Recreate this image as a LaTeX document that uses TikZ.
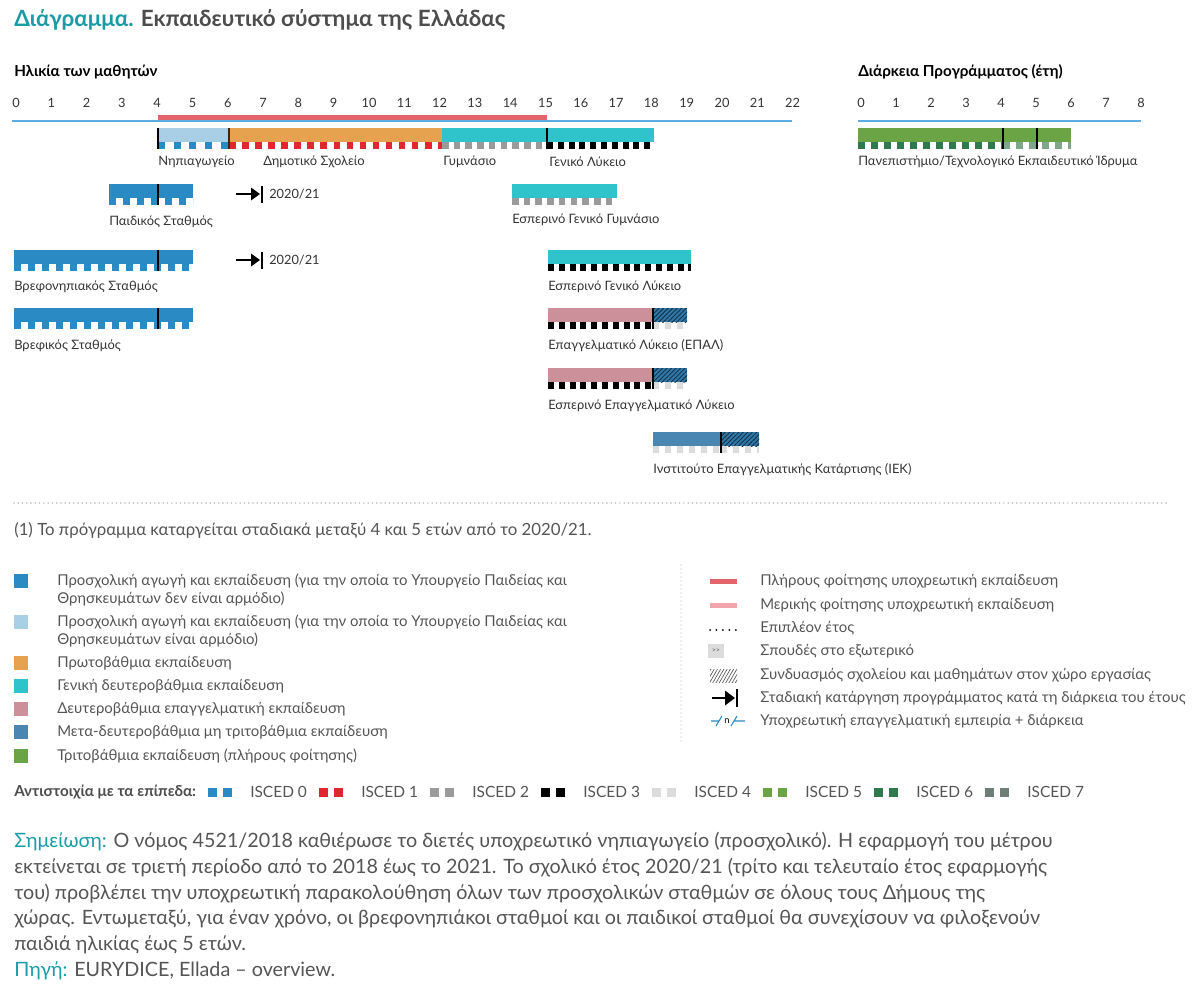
\documentclass[tikz,border=0pt]{standalone}
\usepackage{fontspec}
\setmainfont{Lato}
\usetikzlibrary{patterns.meta}
\definecolor{cTitle}{HTML}{1A9BA6}
\definecolor{cDark}{HTML}{4D4D4D}
\definecolor{cText}{HTML}{555555}
\definecolor{cLabel}{HTML}{333333}
\definecolor{cAxis}{HTML}{5DADE2}
\definecolor{cRed}{HTML}{E0646A}
\definecolor{cPink}{HTML}{F2A6AC}
\definecolor{cPre}{HTML}{2A8AC4}
\definecolor{cPreL}{HTML}{A8CFE5}
\definecolor{cPrim}{HTML}{E6A24F}
\definecolor{cSec}{HTML}{2FC4CB}
\definecolor{cVoc}{HTML}{CC909B}
\definecolor{cPost}{HTML}{4A86B2}
\definecolor{cTer}{HTML}{6BA444}
\definecolor{cIa}{HTML}{2A8AC4}
\definecolor{cIb}{HTML}{E0262E}
\definecolor{cIc}{HTML}{9A9A9A}
\definecolor{cId}{HTML}{000000}
\definecolor{cIe}{HTML}{DCDCDC}
\definecolor{cIf}{HTML}{6BA444}
\definecolor{cIg}{HTML}{2E7A4E}
\definecolor{cIh}{HTML}{6F7F75}
\definecolor{cIhl}{HTML}{7FA58B}
\definecolor{cHbg}{HTML}{2F78A8}
\definecolor{cHln}{HTML}{15324A}
\definecolor{cDot}{HTML}{BBBBBB}

% bar: x1 x2 ytop fill strip dashpattern
\newcommand\edubar[6]{%
  \fill[#4] (#1,#3) rectangle (#2,#3+14);
  \draw[#5, line width=5.25pt, dash pattern=#6] (#1,#3+17.5) -- (#2,#3+17.5);
}
\newcommand\hatchbar[4]{%
  \fill[cHbg] (#1,#3) rectangle (#2,#3+14);
  \fill[pattern={Lines[angle=45,distance=2.4pt,line width=0.7pt]}, pattern color=cHln] (#1,#3) rectangle (#2,#3+14);
  \draw[#4, line width=5.25pt, dash pattern=on 4.5pt off 4.5pt] (#1,#3+17.5) -- (#2,#3+17.5);
}
\newcommand\vsep[2]{\draw[black, line width=1pt] (#1,#2) -- (#1,#2+21);}

\begin{document}
\begin{tikzpicture}[x=0.75pt,y=-0.75pt,
  title/.style={anchor=west, inner sep=0pt, font=\fontsize{16.8}{18}\selectfont\bfseries},
  head/.style={anchor=west, inner sep=0pt, font=\fontsize{11.4}{13}\selectfont\bfseries, text=black},
  tick/.style={inner sep=0pt, font=\fontsize{9.6}{11}\selectfont, text=cLabel},
  lbl/.style={anchor=west, inner sep=0pt, font=\fontsize{9.7}{11}\selectfont, text=cLabel},
  leg/.style={anchor=west, inner sep=0pt, font=\fontsize{11.2}{13}\selectfont, text=cText},
  note/.style={anchor=west, inner sep=0pt, font=\fontsize{14.8}{16}\selectfont, text=cText},
  isc/.style={anchor=west, inner sep=0pt, font=\fontsize{11.6}{13}\selectfont, text=cText},
]
\useasboundingbox (0,0) rectangle (1200,999);

% ---------- header
\node[title] (title) at (14,20) {\textcolor{cTitle}{Διάγραμμα.} \textcolor{cDark}{Εκπαιδευτικό σύστημα της Ελλάδας}};
\node[head] (hage) at (14,72) {Ηλικία των μαθητών};
\node[head] (hdur) at (858,72) {Διάρκεια Προγράμματος (έτη)};

% ---------- axes
\foreach \a in {0,...,22} \node[tick] (t\a) at ({16+35.3*\a},103) {\a};
\foreach \k in {0,...,8} \node[tick] (r\k) at ({861+35*\k},103) {\k};
\draw[cAxis, line width=0.9pt] (12,121) -- (792,121);
\draw[cAxis, line width=0.9pt] (858,121) -- (1141,121);
\fill[cRed] (158,115.5) rectangle (547,120.5);

% ---------- main row
\edubar{158}{229}{128}{cPreL}{cIa}{on 5.25pt off 6.5pt}
\edubar{229}{442}{128}{cPrim}{cIb}{on 4.9pt off 4.9pt}
\edubar{442}{547}{128}{cSec}{cIc}{on 4.9pt off 3.9pt}
\edubar{547}{654}{128}{cSec}{cId}{on 4.5pt off 3.6pt}
\vsep{158}{128}
\draw[black!70!brown, line width=1pt] (229,128) -- (229,149);
\vsep{547}{128}
\node[lbl] (l1) at (158,162) {Νηπιαγωγείο};
\node[lbl] (l2) at (263,162) {Δημοτικό Σχολείο};
\node[lbl] (l3) at (443,162) {Γυμνάσιο};
\node[lbl] (l4) at (549,162) {Γενικό Λύκειο};

% ---------- tertiary
\edubar{858}{1003}{128}{cTer}{cIg}{on 5.25pt off 4.5pt}
\edubar{1003}{1071}{128}{cTer}{cIhl}{on 5.25pt off 4.5pt}
\vsep{1003}{128}
\vsep{1037}{128}
\node[lbl] (l5) at (858,162) {Πανεπιστήμιο/Τεχνολογικό Εκπαιδευτικό Ίδρυμα};

% ---------- pre-primary (not ministry)
\edubar{109}{193}{184}{cPre}{cPre}{on 5.25pt off 5.25pt}
\vsep{158}{184}
\node[lbl] (l6) at (109,222) {Παιδικός Σταθμός};
\edubar{14}{193}{250}{cPre}{cPre}{on 5.25pt off 5.25pt}
\vsep{158}{250}
\node[lbl] (l7) at (14,287) {Βρεφονηπιακός Σταθμός};
\edubar{14}{193}{308}{cPre}{cPre}{on 5.25pt off 5.25pt}
\vsep{158}{308}
\node[lbl] (l8) at (14,346) {Βρεφικός Σταθμός};

% phase-out arrows
\foreach \yy/\nm in {194/a, 260/b}{
  \coordinate (ps\nm) at (236,\yy);
  \coordinate (pe\nm) at (252,\yy);
  \draw[black, line width=1.3pt] (ps\nm) -- (pe\nm);
  \fill[black] (251,\yy-6.5) -- (260,\yy) -- (251,\yy+6.5) -- cycle;
  \draw[black, line width=1pt] (262,\yy-8.5) -- (262,\yy+8.5);
  \node[lbl, font=\fontsize{9.6}{11}\selectfont] (y\nm) at (269,\yy) {2020/21};
}

% ---------- secondary evening & vocational
\edubar{512}{617}{184}{cSec}{cIc}{on 4.9pt off 3.9pt}
\node[lbl] (l9) at (512,220) {Εσπερινό Γενικό Γυμνάσιο};
\edubar{548}{691}{250}{cSec}{cId}{on 4.5pt off 3.6pt}
\node[lbl] (l10) at (548,287) {Εσπερινό Γενικό Λύκειο};

\edubar{548}{653}{308}{cVoc}{cId}{on 4.5pt off 3.6pt}
\hatchbar{653}{687}{308}{cIe}
\vsep{653}{308}
\node[lbl] (l11) at (548,346) {Επαγγελματικό Λύκειο (ΕΠΑΛ)};

\edubar{548}{653}{368}{cVoc}{cId}{on 4.5pt off 3.6pt}
\hatchbar{653}{687}{368}{cIe}
\vsep{653}{368}
\node[lbl] (l12) at (548,406) {Εσπερινό Επαγγελματικό Λύκειο};

\edubar{653}{721}{432}{cPost}{cIe}{on 4.5pt off 4.5pt}
\hatchbar{721}{759}{432}{cIe}
\vsep{721}{432}
\node[lbl] (l13) at (653,470) {Ινστιτούτο Επαγγελματικής Κατάρτισης (ΙΕΚ)};

% ---------- separator
\draw[cDot, line width=1.3pt, line cap=round, dash pattern=on 0pt off 3.2pt] (14,503) -- (1170,503);
\node[leg, font=\fontsize{12.6}{14}\selectfont] (fn) at (14,530) {(1) Το πρόγραμμα καταργείται σταδιακά μεταξύ 4 και 5 ετών από το 2020/21.};

% ---------- legend left
\foreach \c/\yy in {cPre/581, cPreL/622, cPrim/663, cSec/686, cVoc/709, cPost/732, cTer/756}
  \fill[\c] (14,\yy-7) rectangle (28,\yy+7);
\node[leg] (g1a) at (57,581) {Προσχολική αγωγή και εκπαίδευση (για την οποία το Υπουργείο Παιδείας και};
\node[leg] (g1b) at (57,599) {Θρησκευμάτων δεν είναι αρμόδιο)};
\node[leg] (g2a) at (57,622) {Προσχολική αγωγή και εκπαίδευση (για την οποία το Υπουργείο Παιδείας και};
\node[leg] (g2b) at (57,640) {Θρησκευμάτων είναι αρμόδιο)};
\node[leg] (g3) at (57,663) {Πρωτοβάθμια εκπαίδευση};
\node[leg] (g4) at (57,686) {Γενική δευτεροβάθμια εκπαίδευση};
\node[leg] (g5) at (57,709) {Δευτεροβάθμια επαγγελματική εκπαίδευση};
\node[leg] (g6) at (57,732) {Μετα-δευτεροβάθμια μη τριτοβάθμια εκπαίδευση};
\node[leg] (g7) at (57,756) {Τριτοβάθμια εκπαίδευση (πλήρους φοίτησης)};

\draw[cDot, line width=1.1pt, line cap=round, dash pattern=on 0pt off 3pt] (681,565) -- (681,742);

% ---------- legend right
\fill[cRed] (710,579) rectangle (737,584);
\fill[cPink] (710,603) rectangle (737,608);
\draw[black, line width=1.5pt, line cap=round, dash pattern=on 0pt off 4.85pt] (710,630) -- (737,630);
\node[fill=cIe, minimum width=11.5pt, minimum height=10.5pt, inner sep=0pt, font=\fontsize{5}{5}\selectfont, text=cText] (abr) at (716,651) {>{}>};
\begin{scope}
  \clip (710,669) rectangle (737,682);
  \fill[pattern={Lines[angle=60,distance=2.1pt,line width=0.5pt]}, pattern color=cText] (710,669) rectangle (737,682);
\end{scope}
\coordinate (as) at (712,698);
\coordinate (ae) at (727,698);
\draw[black, line width=1.6pt] (as) -- (ae);
\fill[black] (725,690.5) -- (735,698) -- (725,705.5) -- cycle;
\draw[black, line width=1.2pt] (737,689) -- (737,707);
\draw[cPre, line width=0.8pt] (711,721) -- (719,721) (716,726) -- (722,716);
\node[inner sep=0pt, font=\fontsize{7}{7}\selectfont, text=black] (nn) at (727,721) {n};
\draw[cPre, line width=0.8pt] (731,726) -- (737,716) (734,721) -- (745,721);

\node[leg] (r1) at (760,581) {Πλήρους φοίτησης υποχρεωτική εκπαίδευση};
\node[leg] (r2) at (760,605) {Μερικής φοίτησης υποχρεωτική εκπαίδευση};
\node[leg] (r3) at (760,628) {Επιπλέον έτος};
\node[leg] (r4) at (760,651) {Σπουδές στο εξωτερικό};
\node[leg] (r5) at (760,675) {Συνδυασμός σχολείου και μαθημάτων στον χώρο εργασίας};
\node[leg] (r6) at (760,698) {Σταδιακή κατάργηση προγράμματος κατά τη διάρκεια του έτους};
\node[leg] (r7) at (760,721) {Υποχρεωτική επαγγελματική εμπειρία + διάρκεια};

% ---------- ISCED row
\node[isc, font=\fontsize{11.4}{13}\selectfont\bfseries, text=cDark] (iscl) at (14,792) {Αντιστοιχία με τα επίπεδα:};
\foreach \i/\c in {0/cIa,1/cIb,2/cIc,3/cId,4/cIe,5/cIf,6/cIg,7/cIh}{
  \fill[\c] ({208+111*\i},787.5) rectangle ({217+111*\i},796.5);
  \fill[\c] ({223+111*\i},787.5) rectangle ({232+111*\i},796.5);
  \node[isc] (is\i) at ({250+111*\i},792) {ISCED \i};
}

% ---------- notes
\node[note] (n1) at (14,842) {\textcolor{cTitle}{Σημείωση:} Ο νόμος 4521/2018 καθιέρωσε το διετές υποχρεωτικό νηπιαγωγείο (προσχολικό). Η εφαρμογή του μέτρου};
\node[note] (n2) at (14,867.8) {εκτείνεται σε τριετή περίοδο από το 2018 έως το 2021. Το σχολικό έτος 2020/21 (τρίτο και τελευταίο έτος εφαρμογής};
\node[note] (n3) at (14,893.6) {του) προβλέπει την υποχρεωτική παρακολούθηση όλων των προσχολικών σταθμών σε όλους τους Δήμους της};
\node[note] (n4) at (14,919.4) {χώρας. Εντωμεταξύ, για έναν χρόνο, οι βρεφονηπιάκοι σταθμοί και οι παιδικοί σταθμοί θα συνεχίσουν να φιλοξενούν};
\node[note] (n5) at (14,945.2) {παιδιά ηλικίας έως 5 ετών.};
\node[note] (n6) at (14,971) {\textcolor{cTitle}{Πηγή:} EURYDICE, Ellada – overview.};
\end{tikzpicture}
\end{document}
